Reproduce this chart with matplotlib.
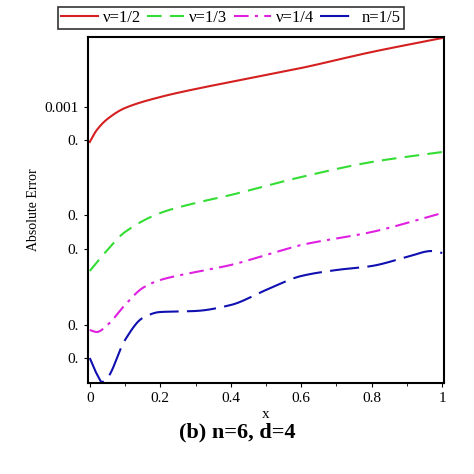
import matplotlib
matplotlib.use("Agg")
import matplotlib.pyplot as plt
import numpy as np

plt.rcParams['font.family'] = ['Liberation Serif', 'DejaVu Serif']

# values expressed on a display scale (top of axes = 346)
x_red = [0, 0.02, 0.05, 0.1, 0.2, 0.3, 0.4, 0.6, 0.8, 1.0]
y_red = [241, 253, 264, 275, 286, 294, 301, 315, 331, 345]
x_green = [0, 0.05, 0.1, 0.2, 0.3, 0.4, 0.6, 0.8, 1.0]
y_green = [112, 133, 151, 170, 180, 188, 206, 221, 231]
x_mag = [0, 0.02, 0.05, 0.1, 0.15, 0.2, 0.3, 0.4, 0.5, 0.6, 0.8, 1.0]
y_mag = [53, 51, 58, 78, 95, 103, 111, 118, 128, 138, 151, 170]
x_blue = [0, 0.02, 0.035, 0.05, 0.1, 0.15, 0.2, 0.3, 0.4, 0.5, 0.6, 0.7, 0.8, 0.9, 0.97, 1.0]
y_blue = [25, 9, 1, 5, 43, 65, 71, 72, 78, 93, 107, 113, 117, 126, 132, 130]
ytick_pos = [276, 243, 168, 134, 58, 25]
ytick_lab = ['0.001', '0.', '0.', '0.', '0.', '0.']
labels = ['ν=1/2', 'ν=1/3', 'ν=1/4', 'n=1/5']

def smooth(xs, ys):
    xx = np.linspace(0, 1, 400)
    xs = np.array(xs); ys = np.array(ys)
    h = np.diff(xs); d = np.diff(ys) / h
    m = np.zeros_like(ys, dtype=float)
    m[0] = d[0]; m[-1] = d[-1]
    for i in range(1, len(xs) - 1):
        m[i] = 0 if d[i-1] * d[i] <= 0 else 2 / (1/d[i-1] + 1/d[i])
    yy = np.empty_like(xx)
    for k, t in enumerate(xx):
        i = min(np.searchsorted(xs, t, side='right') - 1, len(xs) - 2)
        s = (t - xs[i]) / h[i]
        h00 = 2*s**3 - 3*s**2 + 1; h10 = s**3 - 2*s**2 + s
        h01 = -2*s**3 + 3*s**2; h11 = s**3 - s**2
        yy[k] = h00*ys[i] + h10*h[i]*m[i] + h01*ys[i+1] + h11*h[i]*m[i+1]
    return xx, yy

fig = plt.figure(figsize=(4.74, 4.74), dpi=100)
ax = fig.add_axes([88/474, 91/474, 356/474, 346/474])
series = [(x_red, y_red, '#d42020', '-'),
          (x_green, y_green, '#33dd33', (0, (7, 4))),
          (x_mag, y_mag, '#e020e0', (0, (7, 3, 1.5, 3))),
          (x_blue, y_blue, '#1010b0', (0, (14, 4)))]
for (xs, ys, c, ls), lab in zip(series, labels):
    xx, yy = smooth(xs, ys)
    ax.plot(xx, yy, color=c, ls=ls, lw=1.5, label=lab)
ax.set_xlim(-0.005, 1.005)
ax.set_ylim(0, 346)
ax.set_xticks([0, 0.2, 0.4, 0.6, 0.8, 1])
ax.set_xticklabels(['0', '0.2', '0.4', '0.6', '0.8', '1'])
ax.set_xticks(np.arange(0, 1.01, 0.1), minor=True)
ax.set_yticks(ytick_pos)
ax.set_yticklabels(ytick_lab)
ax.tick_params(labelsize=11, length=3)
ax.tick_params(which='minor', length=2)
ax.set_xlabel('x', fontsize=11, labelpad=2)
ax.set_ylabel('Absolute Error', fontsize=10)
ax.yaxis.set_label_coords(-48/356, 0.5)
for s in ax.spines.values():
    s.set_linewidth(1.5)
leg = fig.legend(loc='center', bbox_to_anchor=(231/474, 1 - 18/474), ncol=4,
                 fontsize=12, frameon=True, fancybox=False, edgecolor='black',
                 handlelength=2.2, columnspacing=0.4, handletextpad=0.3,
                 borderpad=0.2, borderaxespad=0)
leg.get_frame().set_linewidth(1.2)
fig.text(0.5, 1 - 432/474, '(b) n=6, d=4', ha='center', va='center',
         fontsize=16, fontweight='bold')
fig.savefig('out.png', dpi=100, facecolor='white')
